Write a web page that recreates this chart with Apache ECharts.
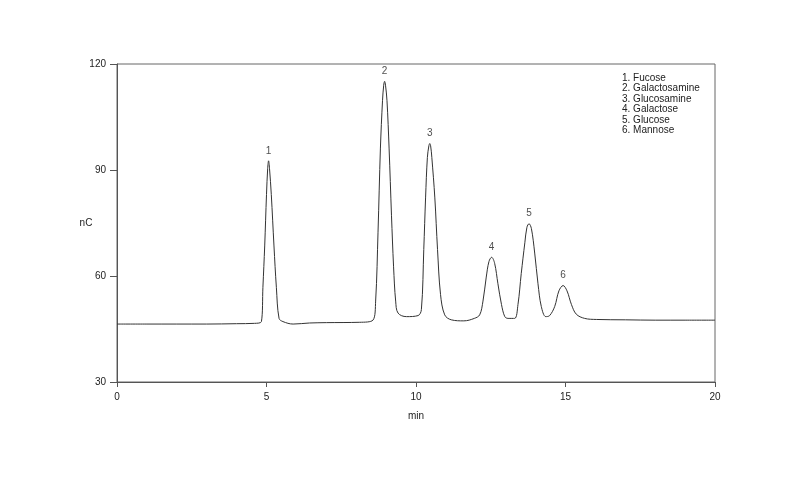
<!DOCTYPE html>
<html>
<head>
<meta charset="UTF-8">
<script src="https://cdn.jsdelivr.net/npm/echarts@6/dist/echarts.min.js"></script>
<style>
  body { margin: 0; background: #fff; }
  #chart { width: 800px; height: 480px; }
</style>
</head>
<body>
<div id="chart"></div>
<script>
// Chromatogram trace: time (min) and signal (nC)
const timeMin = [
  0, 1, 2, 3, 4, 4.6, 4.83, 4.88, 4.94, 5.0, 5.04, 5.07, 5.10, 5.16, 5.25, 5.33, 5.42, 5.55,
  5.89, 6.44, 7.0, 8.12, 8.56, 8.65, 8.73, 8.81, 8.88, 8.92, 8.95, 8.98, 9.03, 9.10, 9.18,
  9.25, 9.32, 9.40, 9.68, 10.07, 10.18, 10.26, 10.32, 10.38, 10.43, 10.46, 10.49, 10.53,
  10.63, 10.72, 10.82, 10.96, 11.18, 11.60, 11.95, 12.13, 12.24, 12.35, 12.44, 12.53,
  12.63, 12.74, 12.86, 12.97, 13.08, 13.30, 13.41, 13.52, 13.64, 13.71, 13.78, 13.86,
  13.97, 14.08, 14.19, 14.34, 14.47, 14.64, 14.78, 14.92, 15.05, 15.20, 15.36, 15.64,
  16.03, 17, 18, 19, 20
]
const signalNC = [
  46.4, 46.4, 46.4, 46.4, 46.5, 46.6, 47.1, 56.8, 68.5, 83.1, 90.5, 92.6, 90.5, 83.1, 68.5, 56.8, 48.0, 47.1,
  46.4, 46.7, 46.8, 46.9, 47.5, 52.9, 72.4, 96.2, 109.6, 114.0, 115.1, 114.0, 109.6, 96.2, 77.2,
  62.6, 52.9, 49.5, 48.5, 48.8, 50.5, 67.5, 82.1, 93.5, 96.8, 97.5, 96.8, 93.5,
  82.1, 67.5, 54.8, 49.0, 47.6, 47.3, 48.0, 49.0, 52.9, 59.7, 64.1, 65.3,
  63.6, 57.8, 51.9, 48.5, 48.0, 48.0, 51.9, 60.7, 69.4, 73.8, 74.8, 73.4,
  66.5, 57.8, 51.4, 48.5, 48.8, 51.4, 55.8, 57.3, 55.8, 51.9, 49.2, 48.0,
  47.7, 47.6, 47.5, 47.5, 47.5
]

// Peak apexes and their numbers
const peakTimes = [5.07, 8.95, 10.46, 12.53, 13.78, 14.92]
const peakHeights = [92.6, 115.1, 97.5, 65.3, 74.8, 57.3]
const peakLabels = ['1', '2', '3', '4', '5', '6']

const compoundNames = ['Fucose', 'Galactosamine', 'Glucosamine', 'Galactose', 'Glucose', 'Mannose']

const xTicks = { min: 0, max: 20, interval: 5 }
const yTicks = { min: 30, max: 120, interval: 30 }

const FONT = '"Liberation Sans", Arial, sans-serif'
const TEXT = '#222'
const AXIS = '#555'

const trace = timeMin.map((t, i) => [t, signalNC[i]])
const peaks = peakTimes.map((t, i) => [t, peakHeights[i], peakLabels[i]])
const legendText = compoundNames.map((n, i) => (i + 1) + '. ' + n).join('\n')

const chart = echarts.init(document.getElementById('chart'))
chart.setOption({
  animation: false,
  backgroundColor: '#fff',
  textStyle: { fontFamily: FONT },
  grid: {
    left: 117, right: 85, top: 64, bottom: 98,
    show: true, borderColor: '#666', borderWidth: 1
  },
  graphic: [{
    type: 'text',
    left: 622,
    top: 73,
    style: {
      text: legendText,
      font: '10px ' + FONT,
      fill: TEXT,
      lineHeight: 10.4
    }
  }],
  xAxis: {
    type: 'value',
    ...xTicks,
    name: 'min',
    nameLocation: 'middle',
    nameGap: 29,
    nameTextStyle: { fontSize: 10, color: TEXT, fontFamily: FONT },
    axisLine: { lineStyle: { color: AXIS } },
    axisTick: { length: 5, lineStyle: { color: AXIS } },
    axisLabel: { fontSize: 10, color: TEXT, margin: 10, fontFamily: FONT },
    splitLine: { show: false }
  },
  yAxis: {
    type: 'value',
    ...yTicks,
    name: 'nC',
    nameLocation: 'middle',
    nameRotate: 0,
    nameGap: 31,
    nameMoveOverlap: false,
    nameTextStyle: { fontSize: 10, color: TEXT, fontFamily: FONT, align: 'center' },
    axisLine: { show: true, lineStyle: { color: AXIS } },
    axisTick: { show: true, length: 7, lineStyle: { color: AXIS } },
    axisLabel: { fontSize: 10, color: TEXT, margin: 11, fontFamily: FONT },
    splitLine: { show: false }
  },
  series: [
    {
      type: 'line',
      data: trace,
      showSymbol: false,
      smooth: 0.35,
      lineStyle: { color: '#333', width: 1 }
    },
    {
      type: 'scatter',
      data: peaks,
      symbolSize: 0,
      silent: true,
      label: {
        show: true,
        position: 'top',
        distance: 5,
        fontSize: 10,
        color: TEXT,
        fontFamily: FONT,
        formatter: p => p.data[2]
      }
    }
  ]
})
</script>
</body>
</html>
